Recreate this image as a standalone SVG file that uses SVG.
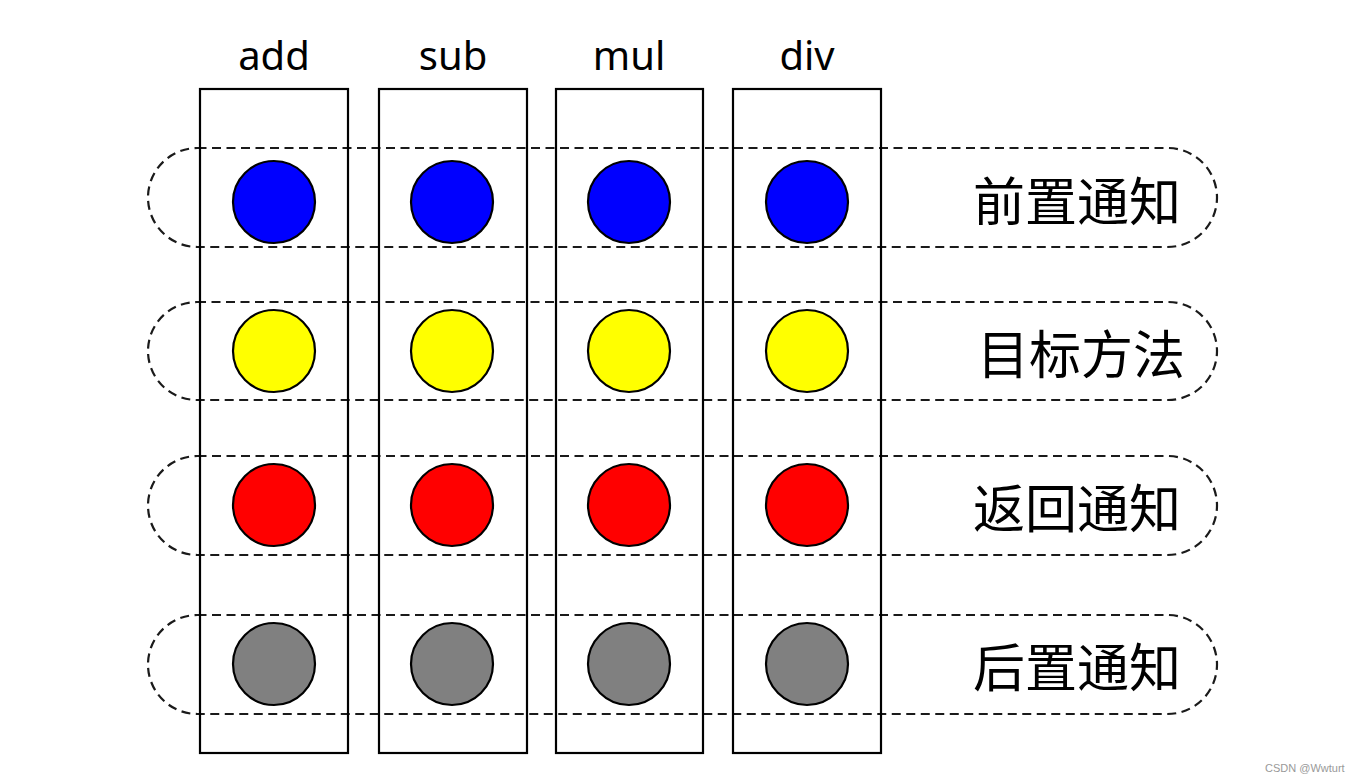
<svg xmlns="http://www.w3.org/2000/svg" width="1360" height="782" viewBox="0 0 1360 782">
<style>
.band{fill:none;stroke:#1a1a1a;stroke-width:2.2;stroke-dasharray:9 5.5}
.col{fill:none;stroke:#000;stroke-width:2.2}
.dot{stroke:#000;stroke-width:2.2}
.hdr{font-family:"Noto Sans","Open Sans",sans-serif;font-size:40px;fill:#000;text-anchor:middle}
.lbl{font-family:"Noto Sans CJK SC",sans-serif;font-size:52px;fill:#000;dominant-baseline:central}
.wm{font-family:"Liberation Sans",sans-serif;font-size:11px;fill:#999}
</style>
<rect width="1360" height="782" fill="#fff"/>
<g id="connectors"></g>
<g id="rows">
<g id="row-before"><rect class="band" x="148" y="148" width="1069" height="99" rx="49.5"/><text class="lbl" x="973" y="198">前置通知</text></g>
<g id="row-target"><rect class="band" x="148" y="302" width="1069" height="98" rx="49"/><text class="lbl" x="977" y="351">目标方法</text></g>
<g id="row-return"><rect class="band" x="148" y="456" width="1069" height="99" rx="49.5"/><text class="lbl" x="973" y="505">返回通知</text></g>
<g id="row-after"><rect class="band" x="148" y="615" width="1069" height="99" rx="49.5"/><text class="lbl" x="973" y="664">后置通知</text></g>
</g>
<g id="col-add"><rect class="col" x="200" y="89" width="148" height="664"/><text class="hdr" x="274" y="70">add</text>
<circle class="dot" cx="274" cy="202" r="41" fill="#0000ff"/><circle class="dot" cx="274" cy="351" r="41" fill="#ffff00"/><circle class="dot" cx="274" cy="505" r="41" fill="#ff0000"/><circle class="dot" cx="274" cy="664" r="41" fill="#808080"/></g>
<g id="col-sub"><rect class="col" x="379" y="89" width="148" height="664"/><text class="hdr" x="453" y="70">sub</text>
<circle class="dot" cx="452" cy="202" r="41" fill="#0000ff"/><circle class="dot" cx="452" cy="351" r="41" fill="#ffff00"/><circle class="dot" cx="452" cy="505" r="41" fill="#ff0000"/><circle class="dot" cx="452" cy="664" r="41" fill="#808080"/></g>
<g id="col-mul"><rect class="col" x="556" y="89" width="147" height="664"/><text class="hdr" x="629" y="70">mul</text>
<circle class="dot" cx="629" cy="202" r="41" fill="#0000ff"/><circle class="dot" cx="629" cy="351" r="41" fill="#ffff00"/><circle class="dot" cx="629" cy="505" r="41" fill="#ff0000"/><circle class="dot" cx="629" cy="664" r="41" fill="#808080"/></g>
<g id="col-div"><rect class="col" x="733" y="89" width="148" height="664"/><text class="hdr" x="807" y="70">div</text>
<circle class="dot" cx="807" cy="202" r="41" fill="#0000ff"/><circle class="dot" cx="807" cy="351" r="41" fill="#ffff00"/><circle class="dot" cx="807" cy="505" r="41" fill="#ff0000"/><circle class="dot" cx="807" cy="664" r="41" fill="#808080"/></g>
<text class="wm" x="1265" y="772">CSDN @Wwturt</text>
</svg>
